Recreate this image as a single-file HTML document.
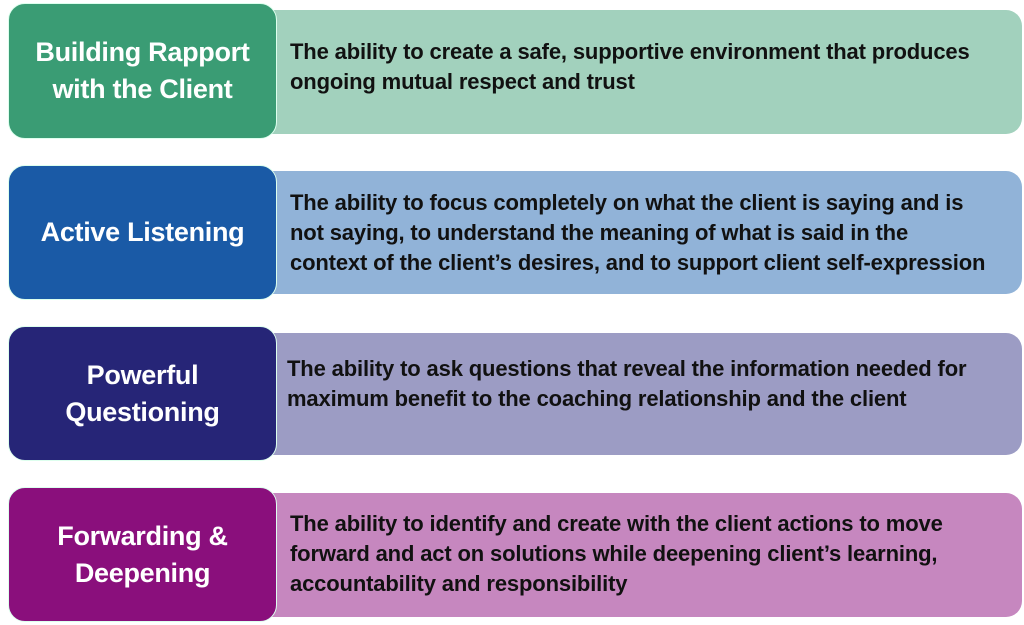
<!DOCTYPE html>
<html><head><style>
body{margin:0;width:1024px;height:625px;background:#fff;position:relative;overflow:hidden;font-family:"Liberation Sans",sans-serif;}
.r{position:absolute;left:265px;width:757px;border-radius:0 16px 16px 0;display:flex;align-items:center;box-sizing:border-box;padding-left:25px;font-weight:bold;font-size:22px;line-height:30px;color:#111;letter-spacing:-0.15px;white-space:nowrap}
.l{position:absolute;left:8px;width:269px;border-radius:17px;border:1px solid #dfe;box-sizing:border-box;display:flex;align-items:center;justify-content:center;text-align:center;color:#fff;font-weight:bold;font-size:27px;line-height:37px;letter-spacing:-0.3px}
</style></head><body>
<div class="r" style="top:10px;height:124px;background:#a2d1bd;padding-bottom:10px">The ability to create a safe, supportive environment that produces<br>ongoing mutual respect and trust</div>
<div class="l" style="top:3px;height:136px;background:#3a9c74">Building Rapport<br>with the Client</div>
<div class="r" style="top:171px;height:123px;background:#91b3d8">The ability to focus completely on what the client is saying and is<br>not saying, to understand the meaning of what is said in the<br>context of the client’s desires, and to support client self-expression</div>
<div class="l" style="top:165px;height:135px;background:#1a5aa6">Active Listening</div>
<div class="r" style="top:333px;height:122px;background:#9c9cc4;padding-left:22px;padding-bottom:20px">The ability to ask questions that reveal the information needed for<br>maximum benefit to the coaching relationship and the client</div>
<div class="l" style="top:326px;height:135px;background:#262577">Powerful<br>Questioning</div>
<div class="r" style="top:493px;height:124px;background:#c687bf;padding-bottom:2px">The ability to identify and create with the client actions to move<br>forward and act on solutions while deepening client’s learning,<br>accountability and responsibility</div>
<div class="l" style="top:487px;height:135px;background:#8a0f7c">Forwarding &amp;<br>Deepening</div>
</body></html>
